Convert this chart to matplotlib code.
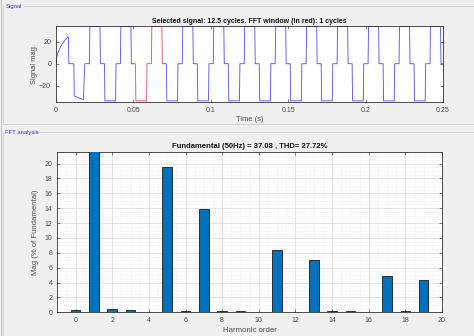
import numpy as np
import matplotlib
matplotlib.use("Agg")
import matplotlib.pyplot as plt
from matplotlib.lines import Line2D
from matplotlib.ticker import MultipleLocator, FuncFormatter

plt.rcParams['font.family'] = ['Liberation Sans', 'DejaVu Sans']

# ---- signal data -------------------------------------------------------
SIG_LEVEL = 34.0
# start-up transient (time s, value)
startup_t = [0.0, 0.0005, 0.001, 0.002, 0.003, 0.004, 0.005, 0.006, 0.007, 0.0080,
             0.0083, 0.0115, 0.0118, 0.013, 0.0145, 0.016, 0.0177, 0.0186, 0.0216]
startup_v = [0.0, 6.0, 9.0, 12.5, 15.5, 18.0, 20.0, 22.0, 23.5, 24.5,
             0.0, 0.0, -29.5, -30.3, -31.2, -32.0, -33.0, 0.0, 0.0]
# one steady-state cycle, edges relative to the rising edge of the positive pulse
cycle_t = [0.0, 0.0003, 0.0068, 0.0071, 0.0097, 0.0100, 0.0169, 0.0172, 0.0200]
cycle_v = [0.0, 1.0, 1.0, 0.0, 0.0, -1.0, -1.0, 0.0, 0.0]
cycle_start = 0.0216
t_end = 0.25
fft_window = (0.05, 0.07)

# ---- FFT data ----------------------------------------------------------
harmonic = list(range(20))
mag_pct = [0.25, 100.0, 0.45, 0.25, 0.08, 19.6, 0.2, 13.85, 0.2, 0.18,
           0.06, 8.37, 0.1, 7.03, 0.12, 0.15, 0.05, 4.92, 0.12, 4.38]
fundamental = 37.08
thd = 27.72

# build the full signal trace
t = list(startup_t)
v = list(startup_v)
k = 0
while cycle_start + k * 0.02 < t_end:
    base = cycle_start + k * 0.02
    for ct, cv in zip(cycle_t[1:], cycle_v[1:]):
        t.append(base + ct)
        v.append(cv * SIG_LEVEL)
    k += 1
t = np.array(t)
v = np.array(v)
t_full = np.sort(np.unique(np.concatenate([t, [fft_window[0], fft_window[1], t_end]])))
v_full = np.interp(t_full, t, v)
keep = t_full <= t_end
t_full, v_full = t_full[keep], v_full[keep]

BG = '#f0f0f0'
fig = plt.figure(figsize=(4.74, 3.36), dpi=100, facecolor=BG)

# panel frames and titles
def hline(y, x0, x1, color):
    fig.add_artist(Line2D([x0 / 474, x1 / 474], [1 - y / 336, 1 - y / 336],
                          color=color, lw=0.8))

def vline(x, y0, y1, color):
    fig.add_artist(Line2D([x / 474, x / 474], [1 - y0 / 336, 1 - y1 / 336],
                          color=color, lw=0.8))

hline(6, 24, 474, '#d4d4d4')
vline(3, 6, 124, '#d4d4d4')
hline(124, 3, 474, '#d4d4d4')
hline(132, 36, 474, '#d4d4d4')
vline(3, 132, 336, '#d4d4d4')
vline(0.5, 0, 336, '#c4c4c4')
fig.text(6 / 474, 1 - 6.5 / 336, 'Signal', fontsize=4.2, color='#2a3fb0',
         va='center', ha='left')
fig.text(5 / 474, 1 - 133 / 336, 'FFT analysis', fontsize=4.2, color='#2a3fb0',
         va='center', ha='left')

TICK_C = '#4a4a4a'
SIG_BLUE = '#5a5ae6'
SIG_RED = '#e85a5a'

# ---- signal axes -------------------------------------------------------
ax1 = fig.add_axes([56 / 474, 1 - 101.7 / 336, 387 / 474, 76 / 336])
before = t_full <= fft_window[0]
after = t_full >= fft_window[1]
red = (t_full >= fft_window[0]) & (t_full <= fft_window[1])
ax1.plot(t_full[before], v_full[before], color=SIG_BLUE, lw=0.65)
ax1.plot(t_full[after], v_full[after], color=SIG_BLUE, lw=0.65)
ax1.plot(t_full[red], v_full[red], color=SIG_RED, lw=0.65)
ax1.set_xlim(0, t_end)
ax1.set_ylim(-SIG_LEVEL - 0.8, SIG_LEVEL + 0.8)
ax1.set_xticks([0, 0.05, 0.1, 0.15, 0.2, 0.25])
ax1.xaxis.set_major_formatter(FuncFormatter(lambda x, p: f'{x:g}'))
ax1.set_yticks([-20, 0, 20])
ax1.set_title('Selected signal: 12.5 cycles. FFT window (in red): 1 cycles',
              fontsize=5.0, fontweight='bold', pad=2, color='#111111')
ax1.set_xlabel('Time (s)', fontsize=5.4, labelpad=1.5, color=TICK_C)
ax1.set_ylabel('Signal mag.', fontsize=5.4, labelpad=1, color=TICK_C)

# ---- FFT axes ----------------------------------------------------------
ax2 = fig.add_axes([57.3 / 474, 1 - 312.3 / 336, 384.7 / 474, 160.6 / 336])
ax2.bar(harmonic, mag_pct, width=0.52, color='#0072bd', edgecolor='#1a1a1a',
        linewidth=0.6, zorder=3)
ax2.set_xlim(-1, 20)
ax2.set_ylim(0, 21.6)
ax2.xaxis.set_major_locator(MultipleLocator(2))
ax2.yaxis.set_major_locator(MultipleLocator(2))
ax2.xaxis.set_minor_locator(MultipleLocator(0.5))
ax2.yaxis.set_minor_locator(MultipleLocator(0.5))
ax2.grid(which='major', color='#d9d9d9', lw=0.5, zorder=0)
ax2.grid(which='minor', color='#e0e0e0', lw=0.4, ls=(0, (1, 1.5)), zorder=0)
ax2.set_axisbelow(True)
ax2.set_title(f'Fundamental (50Hz) = {fundamental:.2f} , THD= {thd:.2f}%',
              fontsize=5.5, fontweight='bold', pad=3, color='#111111')
ax2.set_xlabel('Harmonic order', fontsize=5.6, labelpad=2, color=TICK_C)
ax2.set_ylabel('Mag (% of Fundamental)', fontsize=5.6, labelpad=4, color=TICK_C)

for ax in (ax1, ax2):
    ax.set_facecolor('white')
    for s in ax.spines.values():
        s.set_color('#303030')
        s.set_linewidth(0.6)
    ax.tick_params(which='both', direction='in', top=True, right=True,
                   labelsize=5.0, colors=TICK_C, width=0.5, pad=3.5)
    ax.tick_params(which='major', length=2.5)
    ax.tick_params(which='minor', length=0)

fig.savefig('out.png', dpi=100, facecolor=BG)
